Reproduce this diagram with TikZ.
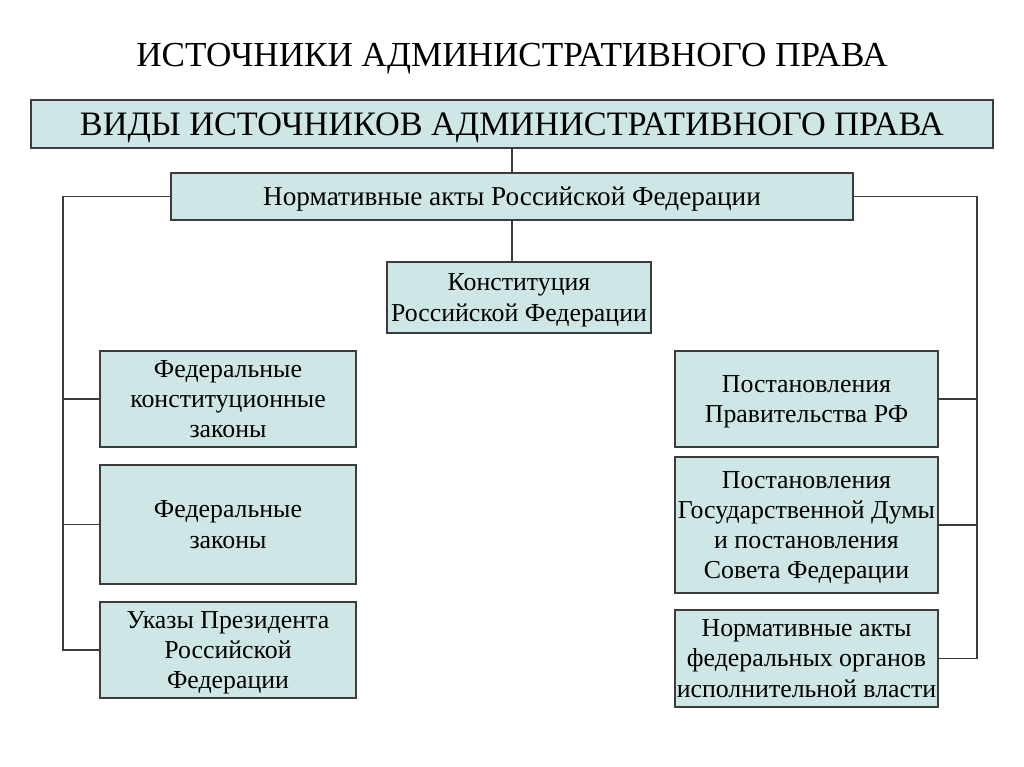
\documentclass[tikz,border=0pt]{standalone}
\usepackage{fontspec}
\setmainfont{Liberation Serif}
\definecolor{boxfill}{RGB}{206,231,230}
\definecolor{boxline}{RGB}{60,60,60}
\tikzset{
  box/.style={draw=boxline,fill=boxfill,line width=0.6pt,inner sep=0pt,text depth=0pt,align=center,font=\fontsize{14.7}{17.2}\selectfont},
  link/.style={draw=boxline,line width=0.6pt}
}
\begin{document}
\begin{tikzpicture}[x=0.02cm,y=-0.02cm]
\useasboundingbox (0,0) rectangle (1024,767);
% title
\node (title) at (512,59) {\fontsize{20}{24}\selectfont ИСТОЧНИКИ АДМИНИСТРАТИВНОГО ПРАВА};
\node[box,minimum width=962*0.02cm,minimum height=48*0.02cm,font=\fontsize{19.5}{23}\selectfont] (kinds) at (512,124) {ВИДЫ ИСТОЧНИКОВ АДМИНИСТРАТИВНОГО ПРАВА};
\node[box,minimum width=682*0.02cm,minimum height=47*0.02cm,font=\fontsize{15.5}{18}\selectfont] (acts) at (512,196.5) {Нормативные акты Российской Федерации};
\node[box,minimum width=264*0.02cm,minimum height=71*0.02cm] (const) at (519,297.5) {Конституция\\Российской Федерации};
% left column
\node[box,minimum width=256*0.02cm,minimum height=96*0.02cm] (fkz) at (228,399) {Федеральные\\конституционные\\законы};
\node[box,minimum width=256*0.02cm,minimum height=119*0.02cm] (fz) at (228,524.5) {Федеральные\\законы};
\node[box,minimum width=256*0.02cm,minimum height=96*0.02cm] (ukaz) at (228,650) {Указы Президента\\Российской\\Федерации};
% right column
\node[box,minimum width=263*0.02cm,minimum height=96*0.02cm] (gov) at (806.5,399) {Постановления\\Правительства РФ};
\node[box,minimum width=263*0.02cm,minimum height=136*0.02cm] (duma) at (806.5,525) {Постановления\\Государственной Думы\\и постановления\\Совета Федерации};
\node[box,minimum width=263*0.02cm,minimum height=97*0.02cm] (exec) at (806.5,658.5) {Нормативные акты\\федеральных органов\\исполнительной власти};
% connectors
\draw[link] (kinds.south) -- (acts.north);
\draw[link] (acts.south) -- (acts.south |- const.north);
\coordinate (lt) at (63,196.5);
\coordinate (rt) at (977,196.5);
\draw[link] (acts.west) -- (lt) -- (lt |- ukaz.west) -- (ukaz.west);
\draw[link] (lt |- fkz.west) -- (fkz.west);
\draw[link] (lt |- fz.west) -- (fz.west);
\draw[link] (acts.east) -- (rt) -- (rt |- exec.east) -- (exec.east);
\draw[link] (rt |- gov.east) -- (gov.east);
\draw[link] (rt |- duma.east) -- (duma.east);
\end{tikzpicture}
\end{document}
